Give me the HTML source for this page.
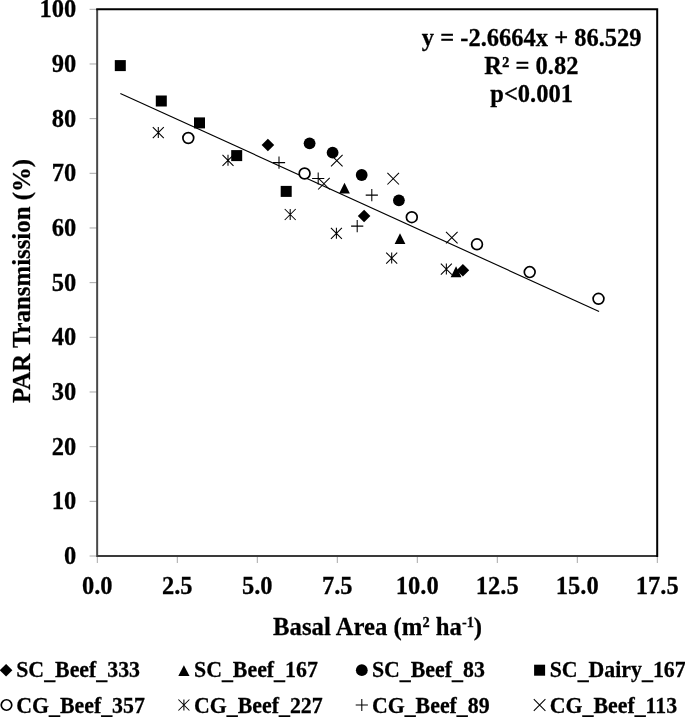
<!DOCTYPE html>
<html><head><meta charset="utf-8"><title>PAR Transmission vs Basal Area</title>
<style>
html,body{margin:0;padding:0;background:#fff}
svg{display:block}
text{font-family:"Liberation Serif",serif;font-weight:bold;fill:#000;stroke:#000;stroke-width:0.25px}
</style></head><body>
<svg width="685" height="717" viewBox="0 0 685 717">
<rect width="685" height="717" fill="#fff"/>

<g stroke="#a8a8a8" stroke-width="1" fill="none">
<line x1="89.6" y1="556.00" x2="97.30" y2="556.00"/>
<line x1="89.6" y1="501.33" x2="97.30" y2="501.33"/>
<line x1="89.6" y1="446.66" x2="97.30" y2="446.66"/>
<line x1="89.6" y1="391.99" x2="97.30" y2="391.99"/>
<line x1="89.6" y1="337.32" x2="97.30" y2="337.32"/>
<line x1="89.6" y1="282.65" x2="97.30" y2="282.65"/>
<line x1="89.6" y1="227.98" x2="97.30" y2="227.98"/>
<line x1="89.6" y1="173.31" x2="97.30" y2="173.31"/>
<line x1="89.6" y1="118.64" x2="97.30" y2="118.64"/>
<line x1="89.6" y1="63.97" x2="97.30" y2="63.97"/>
<line x1="89.6" y1="9.30" x2="97.30" y2="9.30"/>
<line x1="97.30" y1="556.00" x2="97.30" y2="563"/>
<line x1="177.30" y1="556.00" x2="177.30" y2="563"/>
<line x1="257.30" y1="556.00" x2="257.30" y2="563"/>
<line x1="337.30" y1="556.00" x2="337.30" y2="563"/>
<line x1="417.30" y1="556.00" x2="417.30" y2="563"/>
<line x1="497.30" y1="556.00" x2="497.30" y2="563"/>
<line x1="577.30" y1="556.00" x2="577.30" y2="563"/>
<line x1="657.30" y1="556.00" x2="657.30" y2="563"/>
</g>
<line x1="97.15" y1="9.30" x2="97.15" y2="556.90" stroke="#484848" stroke-width="2"/>
<line x1="97.15" y1="555.90" x2="657.30" y2="555.90" stroke="#3a3a3a" stroke-width="2"/>
<path d="M96.20 9.20H657.20V556.90" fill="none" stroke="#000" stroke-width="2"/>
<text transform="translate(76.30 563.90) scale(1.0 1.05)" font-size="24.5" text-anchor="end">0</text>
<text transform="translate(76.30 509.23) scale(1.0 1.05)" font-size="24.5" text-anchor="end">10</text>
<text transform="translate(76.30 454.56) scale(1.0 1.05)" font-size="24.5" text-anchor="end">20</text>
<text transform="translate(76.30 399.89) scale(1.0 1.05)" font-size="24.5" text-anchor="end">30</text>
<text transform="translate(76.30 345.22) scale(1.0 1.05)" font-size="24.5" text-anchor="end">40</text>
<text transform="translate(76.30 290.55) scale(1.0 1.05)" font-size="24.5" text-anchor="end">50</text>
<text transform="translate(76.30 235.88) scale(1.0 1.05)" font-size="24.5" text-anchor="end">60</text>
<text transform="translate(76.30 181.21) scale(1.0 1.05)" font-size="24.5" text-anchor="end">70</text>
<text transform="translate(76.30 126.54) scale(1.0 1.05)" font-size="24.5" text-anchor="end">80</text>
<text transform="translate(76.30 71.87) scale(1.0 1.05)" font-size="24.5" text-anchor="end">90</text>
<text transform="translate(76.30 17.20) scale(1.0 1.05)" font-size="24.5" text-anchor="end">100</text>
<text transform="translate(97.30 593.80) scale(1.0 1.05)" font-size="24.5" text-anchor="middle">0.0</text>
<text transform="translate(177.30 593.80) scale(1.0 1.05)" font-size="24.5" text-anchor="middle">2.5</text>
<text transform="translate(257.30 593.80) scale(1.0 1.05)" font-size="24.5" text-anchor="middle">5.0</text>
<text transform="translate(337.30 593.80) scale(1.0 1.05)" font-size="24.5" text-anchor="middle">7.5</text>
<text transform="translate(417.30 593.80) scale(1.0 1.05)" font-size="24.5" text-anchor="middle">10.0</text>
<text transform="translate(497.30 593.80) scale(1.0 1.05)" font-size="24.5" text-anchor="middle">12.5</text>
<text transform="translate(577.30 593.80) scale(1.0 1.05)" font-size="24.5" text-anchor="middle">15.0</text>
<text transform="translate(657.30 593.80) scale(1.0 1.05)" font-size="24.5" text-anchor="middle">17.5</text>
<text transform="translate(377.60 635.20) scale(1.01 1.03)" font-size="24.5" text-anchor="middle">Basal Area (m<tspan font-size="14.2" dy="-8.2">2</tspan><tspan dy="8.2"> ha</tspan><tspan font-size="14.2" dy="-8.2">-1</tspan><tspan dy="8.2">)</tspan></text>
<text transform="translate(30.10 281.00) rotate(-90) scale(1.014 1.05)" font-size="24.5" text-anchor="middle">PAR Transmission (%)</text>
<text transform="translate(531.70 46.30) scale(1.0 1.05)" font-size="24.5" text-anchor="middle">y = -2.6664x + 86.529</text>
<text transform="translate(531.40 73.60) scale(1.0 1.05)" font-size="24.5" text-anchor="middle">R² = 0.82</text>
<text transform="translate(531.60 101.90) scale(1.0 1.05)" font-size="24.5" text-anchor="middle">p&lt;0.001</text>
<line x1="120.34" y1="93.44" x2="599.06" y2="311.52" stroke="#000" stroke-width="1.15"/>
<circle cx="188.30" cy="138.00" r="5.4" fill="#fff" stroke="#000" stroke-width="1.7"/>
<circle cx="304.60" cy="173.50" r="5.4" fill="#fff" stroke="#000" stroke-width="1.7"/>
<circle cx="411.80" cy="217.20" r="5.4" fill="#fff" stroke="#000" stroke-width="1.7"/>
<circle cx="477.00" cy="244.30" r="5.4" fill="#fff" stroke="#000" stroke-width="1.7"/>
<circle cx="529.70" cy="272.10" r="5.4" fill="#fff" stroke="#000" stroke-width="1.7"/>
<circle cx="598.50" cy="298.80" r="5.4" fill="#fff" stroke="#000" stroke-width="1.7"/>
<path d="M152.80 127.10L163.80 138.10M163.80 127.10L152.80 138.10M158.30 127.10V138.10" stroke="#000" stroke-width="1.05" fill="none"/>
<path d="M222.50 154.80L233.50 165.80M233.50 154.80L222.50 165.80M228.00 154.80V165.80" stroke="#000" stroke-width="1.05" fill="none"/>
<path d="M284.70 209.00L295.70 220.00M295.70 209.00L284.70 220.00M290.20 209.00V220.00" stroke="#000" stroke-width="1.05" fill="none"/>
<path d="M330.90 227.80L341.90 238.80M341.90 227.80L330.90 238.80M336.40 227.80V238.80" stroke="#000" stroke-width="1.05" fill="none"/>
<path d="M386.20 252.60L397.20 263.60M397.20 252.60L386.20 263.60M391.70 252.60V263.60" stroke="#000" stroke-width="1.05" fill="none"/>
<path d="M440.85 263.55L451.85 274.55M451.85 263.55L440.85 274.55M446.35 263.55V274.55" stroke="#000" stroke-width="1.05" fill="none"/>
<path d="M272.90 162.60H285.10M279.00 156.50V168.70" stroke="#000" stroke-width="1.05" fill="none"/>
<path d="M312.10 178.50H324.30M318.20 172.40V184.60" stroke="#000" stroke-width="1.05" fill="none"/>
<path d="M365.70 195.10H377.90M371.80 189.00V201.20" stroke="#000" stroke-width="1.05" fill="none"/>
<path d="M351.10 226.10H363.30M357.20 220.00V232.20" stroke="#000" stroke-width="1.05" fill="none"/>
<path d="M331.00 154.80L342.60 166.40M342.60 154.80L331.00 166.40" stroke="#000" stroke-width="1.05" fill="none"/>
<path d="M318.10 177.90L329.70 189.50M329.70 177.90L318.10 189.50" stroke="#000" stroke-width="1.05" fill="none"/>
<path d="M387.40 172.90L399.00 184.50M399.00 172.90L387.40 184.50" stroke="#000" stroke-width="1.05" fill="none"/>
<path d="M446.00 231.80L457.60 243.40M457.60 231.80L446.00 243.40" stroke="#000" stroke-width="1.05" fill="none"/>
<path d="M261.60 145.00L267.90 138.70L274.20 145.00L267.90 151.30Z" fill="#000"/>
<path d="M357.80 216.00L364.10 209.70L370.40 216.00L364.10 222.30Z" fill="#000"/>
<path d="M456.60 270.30L462.90 264.00L469.20 270.30L462.90 276.60Z" fill="#000"/>
<path d="M344.50 182.80L349.90 193.60H339.10Z" fill="#000"/>
<path d="M400.00 233.30L405.40 244.10H394.60Z" fill="#000"/>
<path d="M456.06 266.35L461.46 277.15H450.66Z" fill="#000"/>
<circle cx="309.60" cy="143.30" r="5.9" fill="#000"/>
<circle cx="332.60" cy="152.70" r="5.9" fill="#000"/>
<circle cx="361.70" cy="175.00" r="5.9" fill="#000"/>
<circle cx="398.90" cy="200.30" r="5.9" fill="#000"/>
<rect x="114.80" y="60.10" width="11.0" height="11.0" fill="#000"/>
<rect x="155.80" y="95.50" width="11.0" height="11.0" fill="#000"/>
<rect x="194.00" y="117.40" width="11.0" height="11.0" fill="#000"/>
<rect x="231.20" y="150.10" width="11.0" height="11.0" fill="#000"/>
<rect x="280.70" y="185.90" width="11.0" height="11.0" fill="#000"/>
<path d="M-0.20 670.20L6.10 663.90L12.40 670.20L6.10 676.50Z" fill="#000"/>
<text transform="translate(16.20 677.40) scale(1.012 1.05)" font-size="21.6" text-anchor="start">SC<tspan dy="1.6">_</tspan><tspan dy="-1.6">Beef</tspan><tspan dy="1.6">_</tspan><tspan dy="-1.6">333</tspan></text>
<path d="M183.90 665.35L189.50 675.95H178.30Z" fill="#000"/>
<text transform="translate(194.00 677.40) scale(1.012 1.05)" font-size="21.6" text-anchor="start">SC<tspan dy="1.6">_</tspan><tspan dy="-1.6">Beef</tspan><tspan dy="1.6">_</tspan><tspan dy="-1.6">167</tspan></text>
<circle cx="361.80" cy="670.20" r="5.9" fill="#000"/>
<text transform="translate(371.90 677.40) scale(1.012 1.05)" font-size="21.6" text-anchor="start">SC<tspan dy="1.6">_</tspan><tspan dy="-1.6">Beef</tspan><tspan dy="1.6">_</tspan><tspan dy="-1.6">83</tspan></text>
<rect x="534.10" y="664.70" width="11.0" height="11.0" fill="#000"/>
<text transform="translate(549.70 677.40) scale(1.012 1.05)" font-size="21.6" text-anchor="start">SC<tspan dy="1.6">_</tspan><tspan dy="-1.6">Dairy</tspan><tspan dy="1.6">_</tspan><tspan dy="-1.6">167</tspan></text>
<circle cx="6.50" cy="705.00" r="5.25" fill="#fff" stroke="#000" stroke-width="1.7"/>
<text transform="translate(16.20 712.80) scale(1.012 1.05)" font-size="21.6" text-anchor="start">CG<tspan dy="1.6">_</tspan><tspan dy="-1.6">Beef</tspan><tspan dy="1.6">_</tspan><tspan dy="-1.6">357</tspan></text>
<path d="M178.40 699.50L189.40 710.50M189.40 699.50L178.40 710.50M183.90 699.50V710.50" stroke="#000" stroke-width="1.05" fill="none"/>
<text transform="translate(194.00 712.80) scale(1.012 1.05)" font-size="21.6" text-anchor="start">CG<tspan dy="1.6">_</tspan><tspan dy="-1.6">Beef</tspan><tspan dy="1.6">_</tspan><tspan dy="-1.6">227</tspan></text>
<path d="M355.70 705.00H367.90M361.80 698.90V711.10" stroke="#000" stroke-width="1.05" fill="none"/>
<text transform="translate(371.90 712.80) scale(1.012 1.05)" font-size="21.6" text-anchor="start">CG<tspan dy="1.6">_</tspan><tspan dy="-1.6">Beef</tspan><tspan dy="1.6">_</tspan><tspan dy="-1.6">89</tspan></text>
<path d="M533.80 699.20L545.40 710.80M545.40 699.20L533.80 710.80" stroke="#000" stroke-width="1.05" fill="none"/>
<text transform="translate(549.70 712.80) scale(1.012 1.05)" font-size="21.6" text-anchor="start">CG<tspan dy="1.6">_</tspan><tspan dy="-1.6">Beef</tspan><tspan dy="1.6">_</tspan><tspan dy="-1.6">113</tspan></text>
</svg></body></html>
